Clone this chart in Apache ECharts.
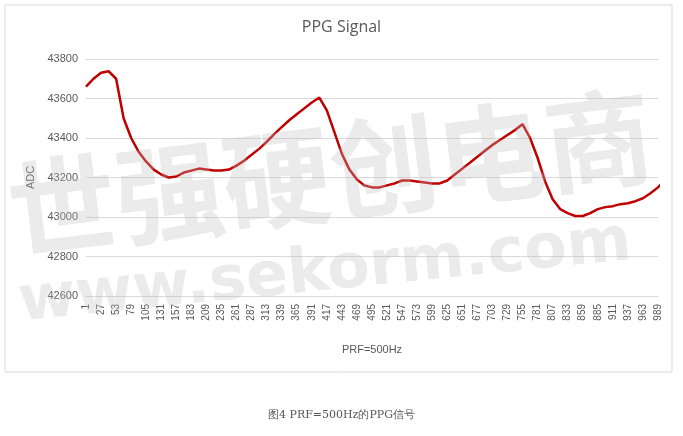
<!DOCTYPE html>
<html><head><meta charset="utf-8">
<script src="https://cdn.jsdelivr.net/npm/echarts@6/dist/echarts.min.js"></script>
<style>html,body{margin:0;padding:0;background:#fff}#c{width:683px;height:436px}</style>
</head><body><div id="c"></div>
<script>
const categories = [];
for (let i = 1; i <= 989; i += 13) categories.push(String(i));
const adcValues = [43660,43700,43730,43738,43700,43500,43400,43330,43280,43240,43215,43200,43205,43225,43235,43245,43240,43235,43235,43240,43260,43285,43315,43345,43380,43420,43455,43490,43520,43550,43580,43605,43540,43430,43320,43240,43190,43160,43150,43150,43160,43170,43185,43185,43180,43175,43170,43170,43185,43215,43245,43275,43305,43335,43365,43390,43415,43440,43470,43400,43300,43180,43090,43040,43020,43005,43005,43020,43040,43050,43055,43065,43070,43080,43095,43120,43150,43190];
const yTicks = {min:42600, max:43800, interval:200};
const chart = echarts.init(document.getElementById('c'));
chart.setOption({
  animation:false,
  graphic:[
    {type:'rect',shape:{x:5,y:5,width:667,height:367},style:{fill:'none',stroke:'#d9d9d9',lineWidth:1}},
    {type:'text',left:'center',top:410,style:{text:'图4 PRF=500Hz的PPG信号',font:'11px "DejaVu Serif", serif',fill:'#555'}},
    {type:'text',x:15,y:265,rotation:0.12,z:10,style:{text:'世强硬创电商',font:'bold 108px "Noto Sans CJK SC"',fill:'rgba(190,190,190,0.3)',textVerticalAlign:'bottom'}},
    {type:'text',x:22,y:335,rotation:0.1,z:10,style:{text:'www.sekorm.com',font:'bold 62px "DejaVu Sans"',fill:'rgba(190,190,190,0.3)',textVerticalAlign:'bottom'}}
  ],
  title:{text:'PPG Signal',left:'center',top:14,textStyle:{fontSize:16,fontWeight:'normal',color:'#595959',fontFamily:'Open Sans'}},
  grid:{left:86,right:25,top:59,bottom:140},
  xAxis:{type:'category',data:categories,boundaryGap:false,name:'PRF=500Hz',nameLocation:'middle',nameGap:48,
    nameTextStyle:{color:'#595959',fontSize:11},
    axisLine:{lineStyle:{color:'#d9d9d9'}},axisTick:{show:false},
    axisLabel:{interval:1,rotate:90,color:'#595959',fontSize:10}},
  yAxis:{type:'value',min:yTicks.min,max:yTicks.max,interval:yTicks.interval,name:'ADC',nameLocation:'middle',nameGap:44,
    nameTextStyle:{color:'#595959',fontSize:11},
    axisLine:{show:false},axisTick:{show:false},
    axisLabel:{color:'#595959',fontSize:11,formatter:v=>String(v)},splitLine:{lineStyle:{color:'#d9d9d9'}}},
  series:[{type:'line',data:adcValues,showSymbol:false,lineStyle:{color:'#c00000',width:2.5}}]
});
</script></body></html>
